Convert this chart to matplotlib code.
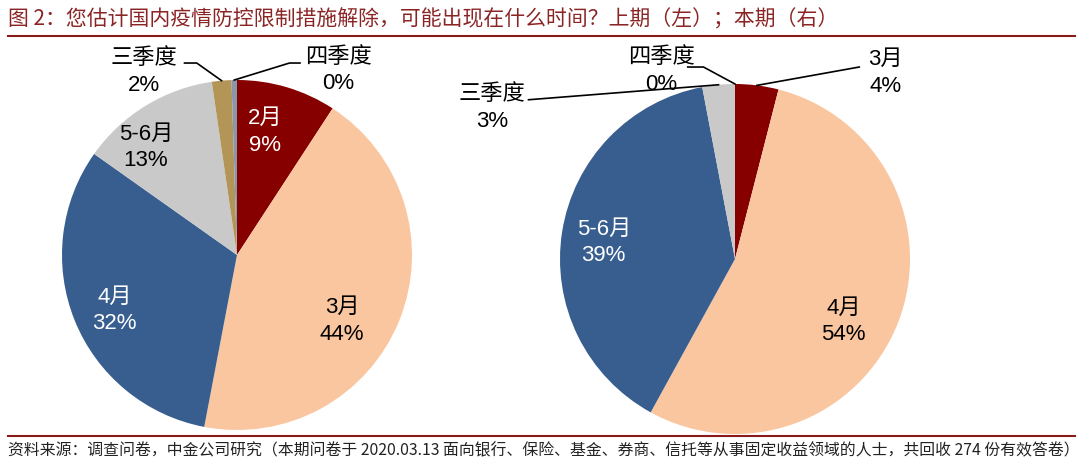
import matplotlib
matplotlib.use('Agg')
import matplotlib.pyplot as plt
import numpy as np
from matplotlib.lines import Line2D

plt.rcParams['font.family'] = ['Liberation Sans', 'Noto Sans CJK SC', 'DejaVu Sans']

# ---------------- data ----------------
left_categories = ['2月', '3月', '4月', '5-6月', '三季度', '四季度']
left_values = [9.2, 43.8, 31.8, 12.9, 1.8, 0.5]
left_pct = ['9%', '44%', '32%', '13%', '2%', '0%']

right_categories = ['3月', '4月', '5-6月', '三季度', '四季度']
right_values = [4, 54, 39, 3, 0]
right_pct = ['4%', '54%', '39%', '3%', '0%']

title = '图 2：您估计国内疫情防控限制措施解除，可能出现在什么时间？上期（左）；本期（右）'
source = ('资料来源：调查问卷，中金公司研究（本期问卷于 2020.03.13 面向银行、保险、基金、券商、'
          '信托等从事固定收益领域的人士，共回收 274 份有效答卷）')

# ---------------- style ----------------
slot_colors = ['#870000', '#F9C6A0', '#375E8F', '#C9C9C9', '#B39558', '#8A97AB']
W, H = 1080, 464
LABEL_FS = 16
LS = 1.35

# label layout per wedge (radius units): inside -> (x, y, color); outside -> (text xy, elbow points)
left_layout = [
    ('in', (0.16, 0.71), 'white'),
    ('in', (0.60, -0.37), 'black'),
    ('in', (-0.70, -0.31), 'white'),
    ('in', (-0.52, 0.62), 'black'),
    ('out', (-0.53, 1.05), [(-0.30, 1.097), (-0.23, 1.097)]),
    ('out', (0.58, 1.06), [(0.36, 1.097), (0.30, 1.097)]),
]
right_layout = [
    ('out', (0.86, 1.07), [(0.71, 1.097)]),
    ('in', (0.62, -0.35), 'black'),
    ('in', (-0.75, 0.10), 'white'),
    ('out', (-1.39, 0.87), [(-1.18, 0.91)]),
    ('out', (-0.42, 1.08), [(-0.27, 1.097), (-0.18, 1.097)]),
]

fig = plt.figure(figsize=(W / 100, H / 100), dpi=100)


def draw_pie(cx, cy, r, cats, vals, pcts, layout):
    ax = fig.add_axes([(cx - r) / W, (H - cy - r) / H, 2 * r / W, 2 * r / H])
    wedges, _ = ax.pie(vals, colors=slot_colors[:len(vals)], startangle=90,
                       counterclock=False, radius=1.0,
                       wedgeprops=dict(linewidth=0))
    ax.set_xlim(-1, 1)
    ax.set_ylim(-1, 1)
    ax.set_aspect('auto')
    ax.axis('off')
    for w, cat, pct, lay in zip(wedges, cats, pcts, layout):
        if lay[0] == 'in':
            (x, y), col = lay[1], lay[2]
            ax.text(x, y, f'{cat}\n{pct}', ha='center', va='center',
                    fontsize=LABEL_FS, color=col, linespacing=LS)
        else:
            (tx, ty), pts = lay[1], lay[2]
            ax.text(tx, ty, f'{cat}\n{pct}', ha='center', va='center',
                    fontsize=LABEL_FS, color='black', linespacing=LS)
            mid = np.deg2rad((w.theta1 + w.theta2) / 2)
            xs = [p[0] for p in pts] + [np.cos(mid) * 1.0]
            ys = [p[1] for p in pts] + [np.sin(mid) * 1.0]
            ax.add_line(Line2D(xs, ys, color='black', lw=1.2, clip_on=False))
    return ax


draw_pie(237, 256, 175, left_categories, left_values, left_pct, left_layout)
draw_pie(735, 260, 175, right_categories, right_values, right_pct, right_layout)

# title and source
fig.text(8 / W, 1 - 19 / H, title, fontsize=15, color='#8B2525', va='center', ha='left',
         family=['Noto Sans CJK SC', 'DejaVu Sans'])
fig.add_artist(Line2D([8 / W, 1075 / W], [1 - 37 / H] * 2, color='#8B1A1A', lw=1.5,
                      transform=fig.transFigure))
fig.add_artist(Line2D([8 / W, 1075 / W], [1 - 437 / H] * 2, color='#8B1A1A', lw=1.5,
                      transform=fig.transFigure))
fig.text(8 / W, 1 - 451 / H, source, fontsize=11.4, color='#222222', va='center', ha='left',
         family=['Noto Sans CJK SC', 'DejaVu Sans'])

fig.savefig('out.png', dpi=100)
